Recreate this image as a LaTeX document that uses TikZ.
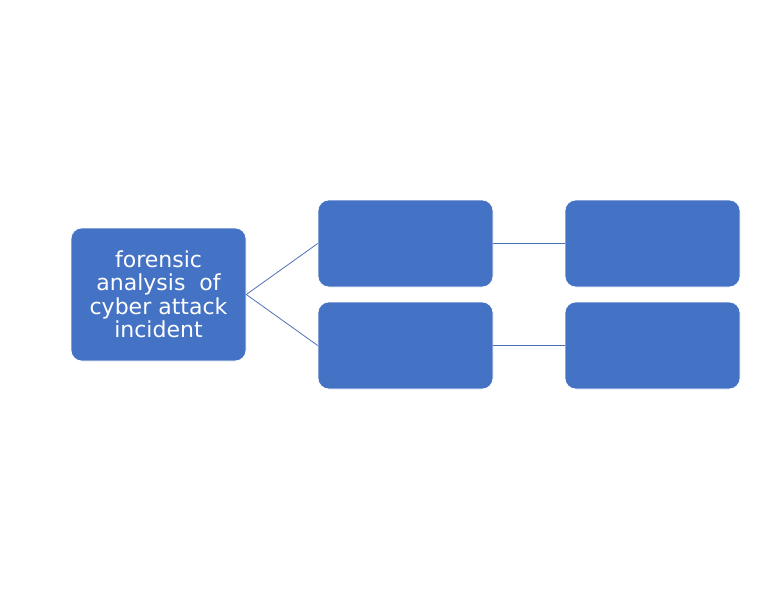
\documentclass[tikz,border=0pt]{standalone}
\usepackage{fontspec}
\setmainfont{DejaVu Sans}
\definecolor{boxblue}{HTML}{4472C4}
\definecolor{linkblue}{HTML}{4A6FB5}
\begin{document}
\begin{tikzpicture}[x=1pt,y=-1pt,
  box/.style={fill=boxblue,draw=white,line width=0.6pt,rounded corners=11pt,
    minimum width=175pt,inner sep=0pt,text=white,align=center,
    font=\fontsize{22}{23.5}\selectfont},
  link/.style={draw=linkblue,line width=0.8pt}]
\useasboundingbox (0,0) rectangle (768,594);
\node[box,minimum height=133pt] (root) at (158.5,294.5) {forensic\\analysis\ \ of\\cyber attack\\incident};
\node[box,minimum height=87pt] (m1) at (405.5,243.5) {};
\node[box,minimum height=87pt] (m2) at (405.5,345.5) {};
\node[box,minimum height=87pt] (r1) at (652.5,243.5) {};
\node[box,minimum height=87pt] (r2) at (652.5,345.5) {};
\draw[link] (root.east) -- (m1.west);
\draw[link] (root.east) -- (m2.west);
\draw[link] (m1.east) -- (r1.west);
\draw[link] (m2.east) -- (r2.west);
\end{tikzpicture}
\end{document}
